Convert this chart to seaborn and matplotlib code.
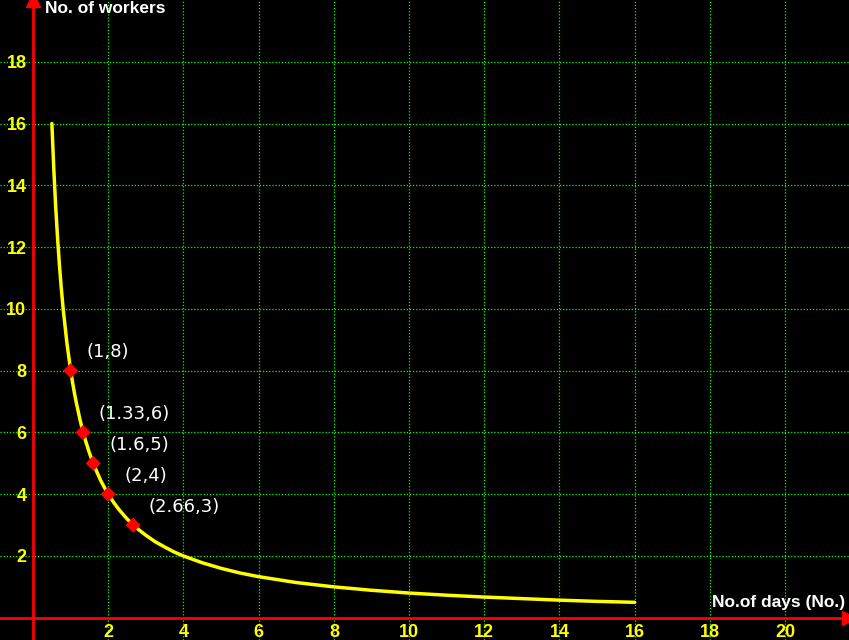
import numpy as np
import pandas as pd
import seaborn as sns
import matplotlib.pyplot as plt

# curve values (days vs workers)
days = [0.5, 0.55, 0.6, 0.65, 0.7, 0.75, 0.8, 0.9, 1, 1.05, 1.1, 1.15, 1.25, 1.33, 1.4,
        1.5, 1.6, 1.7, 1.8, 1.9, 2, 2.15, 2.3, 2.5, 2.66, 2.8, 3, 3.25, 3.5, 3.75, 4,
        4.5, 5, 5.5, 6, 7, 8, 9, 10, 11, 12, 13, 14, 15, 16]
workers = [16, 14.55, 13.33, 12.31, 11.43, 10.67, 10, 8.89, 8, 7.62, 7.27, 6.96, 6.4, 6,
           5.71, 5.33, 5, 4.71, 4.44, 4.21, 4, 3.72, 3.48, 3.2, 3, 2.86, 2.67, 2.46, 2.29,
           2.13, 2, 1.78, 1.6, 1.45, 1.33, 1.14, 1, 0.89, 0.8, 0.73, 0.67, 0.62, 0.57,
           0.53, 0.5]

# highlighted points and their labels
pt_x = [1, 1.33, 1.6, 2, 2.66]
pt_y = [8, 6, 5, 4, 3]
pt_labels = ["(1,8)", "(1.33,6)", "(1.6,5)", "(2,4)", "(2.66,3)"]

x_ticks = [2, 4, 6, 8, 10, 12, 14, 16, 18, 20]
y_ticks = [2, 4, 6, 8, 10, 12, 14, 16, 18]

curve = pd.DataFrame({"days": days, "workers": workers})
points = pd.DataFrame({"days": pt_x, "workers": pt_y})

sns.set_style("dark", {"axes.facecolor": "black", "figure.facecolor": "black"})
plt.rcParams['font.family'] = ['DejaVu Sans']

fig = plt.figure(figsize=(8.49, 6.4), dpi=100)
ax = fig.add_axes([0, 0, 1, 1])
ax.set_facecolor("black")

ax.set_xlim(-0.88, 21.7)
ax.set_ylim(-0.72, 20.0)

ax.grid(True, color="#00ff00", linestyle=(0, (1, 1.5)), linewidth=0.9)
ax.set_axisbelow(True)

sns.lineplot(data=curve, x="days", y="workers", color="#ffff00", linewidth=2.5,
             ax=ax, zorder=3, sort=False)
sns.scatterplot(data=points, x="days", y="workers", marker="D", color="red",
                s=60, edgecolor="none", ax=ax, zorder=4)

for x, y, lab in zip(pt_x, pt_y, pt_labels):
    ax.text(x + 0.42, y + 0.6, lab, color="white", fontsize=13, ha="left", va="center",
            zorder=5)

# axes through origin
for side in ["top", "right"]:
    ax.spines[side].set_visible(False)
ax.spines["left"].set_position(("data", 0))
ax.spines["bottom"].set_position(("data", 0))
for side in ["left", "bottom"]:
    ax.spines[side].set_color("red")
    ax.spines[side].set_linewidth(2)
    ax.spines[side].set_zorder(6)

ax.set_xticks(x_ticks)
ax.set_yticks(y_ticks)
ax.tick_params(axis="both", direction="inout", length=9, width=1, color="red",
               labelcolor="#ffff00", labelsize=13)
ax.tick_params(axis="x", pad=0.3)
ax.tick_params(axis="y", pad=0.3)
for lab in ax.get_xticklabels() + ax.get_yticklabels():
    lab.set_fontweight("bold")
    lab.set_family("Liberation Sans")

ax.plot(1, 0, ">", color="red", markersize=10, transform=ax.get_yaxis_transform(),
        clip_on=False, zorder=7)
ax.plot(0, 1, "^", color="red", markersize=10, transform=ax.get_xaxis_transform(),
        clip_on=False, zorder=7)

ax.set_xlabel("")
ax.set_ylabel("")
ax.text(45 / 849, 1 - 1 / 640, "No. of workers", transform=ax.transAxes, color="white",
        fontsize=12.5, fontweight="bold", family="Liberation Sans", ha="left", va="top")
ax.text(0.996, 1 - 603 / 640, "No.of days (No.)", transform=ax.transAxes, color="white",
        fontsize=12.5, fontweight="bold", family="Liberation Sans", ha="right", va="center")

fig.savefig("out.png", dpi=100, facecolor="black")
